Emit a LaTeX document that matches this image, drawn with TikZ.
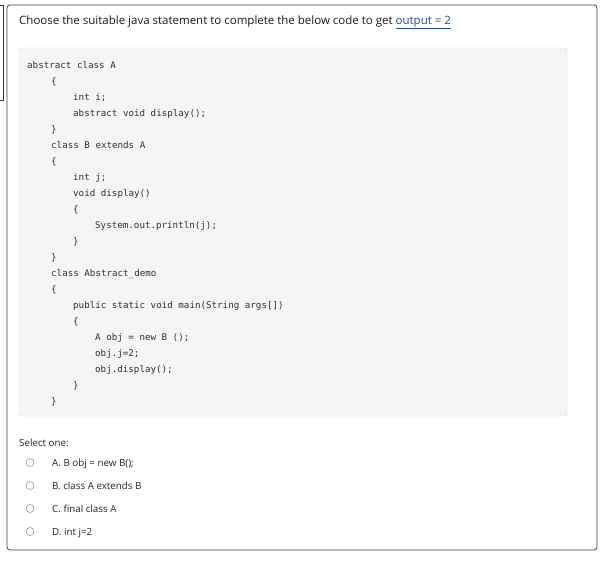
\documentclass[tikz,border=0pt]{standalone}
\usepackage{fontspec}
\setmainfont{Open Sans}
\setmonofont{DejaVu Sans Mono}
\begin{document}
\begin{tikzpicture}[x=1pt,y=-1pt,
  code/.style={anchor=base west,inner sep=0pt,font=\ttfamily\fontsize{9.2}{10}\selectfont,text=black!80},
  txt/.style={anchor=base west,inner sep=0pt,font=\fontsize{9.8}{11}\selectfont,text=black!85},
  radio/.style={circle,draw=black!55,minimum size=8pt,inner sep=0pt}]
\useasboundingbox (0,0) rectangle (611,562);
\draw[black!80,line width=0.8pt] (0,5) -- (3,5) -- (3,100) -- (0,100);
\draw[rounded corners=3pt,draw=black!75,line width=0.8pt] (7,5) rectangle (597,550);
\node[txt,font=\fontsize{11.5}{12}\selectfont,text=black!90] (q) at (19,24) {Choose the suitable java statement to complete the below code to get \textcolor[HTML]{1F4E9C}{\underline{output = 2}}};
\draw[rounded corners=2pt,draw=black!18,fill=black!4] (19,48) rectangle (567,416);
\foreach \y/\x/\t [count=\i] in {
 68/27/{abstract class A},84/51/\{,100/73/{int i;},116/73/{abstract void display();},
 132/51/\},148/51/{class B extends A},164/51/\{,180/73/{int j;},196/73/{void display()},
 212/73/\{,228/95/{System.out.println(j);},244/73/\},260/51/\},276/51/{class Abstract\_demo},
 292/51/\{,308/73/{public static void main(String args[])},324/73/\{,340/95/{A obj = new B ();},
 356/95/{obj.j=2;},372/95/{obj.display();},388/73/\},404/51/\}}
 \node[code] (c\i) at (\x,\y) {\t};
\node[txt] (sel) at (19,446) {Select one:};
\foreach \y/\t [count=\i] in {466/{A. B obj = new B();},489/{B. class A extends B},512/{C. final class A},535/{D. int j=2}}{
 \node[radio] (r\i) at (30,\y-3.5) {};
 \node[txt] (o\i) at (52,\y) {\t};
}
\end{tikzpicture}
\end{document}
